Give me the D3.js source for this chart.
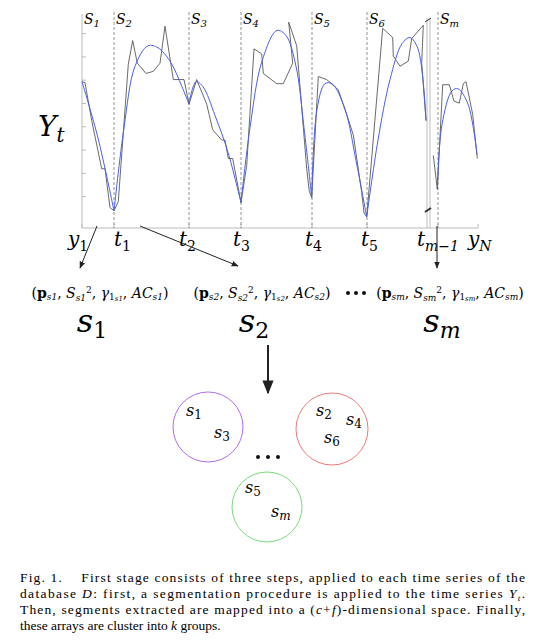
<!DOCTYPE html>
<html><head><meta charset="utf-8">
<script src="https://cdn.jsdelivr.net/npm/d3@7"></script>
<style>body{margin:0;background:#fff}text{font-family:"DejaVu Serif","Liberation Serif",serif}text.cap{font-family:"Liberation Serif",serif;white-space:pre}</style>
</head><body><svg id="c" width="544" height="643"></svg>
<script>
// time index (0..396) and value (0..10)
const boundaries = [0, 32, 107, 159, 230, 285, 356, 396];
const segLabels = ["1", "2", "3", "4", "5", "6", "m"];
const tLabels = ["1", "2", "3", "4", "5", "m\u22121"];
const tLabelX = [38, 103, 157, 229, 285, 341];
const rawT = [
  [0,3,9.7,19.7,23,28,32],
  [32,36.3,46.3,50.7,55.3,64,71.3,78,83,91.3,102,107],
  [107,114.7,124.7,130.7,139.7,143,146.3,150.7,159],
  [159,164.7,172,179.7,181.3,194.7,201.3,210.7,206.7,214.7,224.7,227.3,229.7],
  [229.7,236.3,244.7,256.3,264.7,271.3,279.7,282,284.7],
  [284.7,300.7,310.7,311.3,318,326.3,329.7,341.3,339.7,344],
  [351.3,355.3,360.7,367.3,372,377.3,381.3,384,390.7,395.3]
];
const rawV = [
  [6.75,6.7,4.85,2.5,2.5,0.6,0.45],
  [0.45,0.9,7.6,8.75,7.65,7.15,7.25,7.65,9.45,6.85,6.85,5.65],
  [5.65,6.85,5.65,4.4,3.9,3.9,3.0,3.0,0.85],
  [0.85,2.65,8.35,8.1,7.15,6.65,6.65,7.65,9.65,8.5,2.5,1.4,1.1],
  [1.1,7.0,6.85,6.35,5.15,4.15,1.35,0.35,0.15],
  [0.15,9.35,8.9,8.0,7.5,7.75,8.85,9.5,7.65,4.85],
  [3.15,1.5,6.6,6.6,5.8,5.7,6.65,6.75,5.15,3.0]
];
const fitT = [
  [0,16,32],
  [32,42,53,66,76,88,100,107],
  [107,114,121,133,146,159],
  [159,168,180,195,204,214,222,229.7],
  [229.7,235,243,250,263,274,284.7],
  [284.7,296,308,320,328,336,344],
  [355.3,360,370,376,386,395]
];
const fitV = [
  [6.75,4.0,0.45],
  [0.45,4.5,7.5,8.5,8.4,7.75,6.5,5.65],
  [5.65,6.75,6.5,5.1,3.3,0.85],
  [0.85,4.5,7.75,9.25,9.0,7.5,4.5,1.1],
  [1.1,5.4,6.65,6.65,5.4,2.9,0.15],
  [0.15,3.9,6.85,8.6,8.9,8.35,4.85],
  [1.5,4.65,6.3,6.4,5.65,3.2]
];
const formulaX = [100, 262, 450];
const segNames = ["1", "2", "m"];
const clusters = [
  {cx: 208, cy: 427, r: 35, color: "#b06cf0", items: [["1", -22, -11], ["3", 6, 11]]},
  {cx: 332, cy: 429, r: 36, color: "#f07a7a", items: [["2", -16, -13], ["4", 14, -4], ["6", -8, 14]]},
  {cx: 267, cy: 507, r: 35, color: "#7ada7a", items: [["5", -22, -14], ["m", 4, 10]]}
];
const caption = [
  "Fig. 1.    First stage consists of three steps, applied to each time series of the",
  "database D: first, a segmentation procedure is applied to the time series Y_t.",
  "Then, segments extracted are mapped into a (c+f)-dimensional space. Finally,",
  "these arrays are cluster into k groups."
];

const svg = d3.select("#c");
const x = d3.scaleLinear().domain([0, 396]).range([82, 478]);
const y = d3.scaleLinear().domain([0, 10]).range([220, 15]);
const g = svg.append("g");

// axes frame
g.append("line").attr("x1", 82).attr("x2", 82).attr("y1", 14).attr("y2", 228).attr("stroke", "#bbb");
g.append("line").attr("x1", 82).attr("x2", 478).attr("y1", 228).attr("y2", 228).attr("stroke", "#bbb");
g.selectAll(".yt").data(d3.range(1, 9)).join("line")
  .attr("x1", 82).attr("x2", 86).attr("y1", d => 220 - d * 23.3).attr("y2", d => 220 - d * 23.3).attr("stroke", "#bbb");
g.selectAll(".xt").data(boundaries).join("line")
  .attr("x1", d => x(d)).attr("x2", d => x(d)).attr("y1", 224).attr("y2", 228).attr("stroke", "#bbb");

// segment boundaries
g.selectAll(".b").data(boundaries.slice(1, 7)).join("line")
  .attr("x1", d => x(d)).attr("x2", d => x(d))
  .attr("y1", 12).attr("y2", 228)
  .attr("stroke", "#777").attr("stroke-dasharray", "3,2").attr("stroke-width", 0.8);
// break marks
[345, 348].forEach(t => g.append("line").attr("x1", x(t)).attr("x2", x(t)).attr("y1", 18).attr("y2", 228)
  .attr("stroke", "#bbb").attr("stroke-width", 1));
g.append("line").attr("x1", x(343)).attr("x2", x(349)).attr("y1", 22).attr("y2", 18).attr("stroke", "#333");
g.append("line").attr("x1", x(343)).attr("x2", x(349)).attr("y1", 212).attr("y2", 208).attr("stroke", "#333").attr("stroke-width", 2);

const line = d3.line().x(d => x(d[0])).y(d => y(d[1]));
const smooth = d3.line().x(d => x(d[0])).y(d => y(d[1])).curve(d3.curveCatmullRom);
rawT.forEach((ts, k) => {
  g.append("path").attr("d", line(ts.map((t, i) => [t, rawV[k][i]])))
    .attr("fill", "none").attr("stroke", "#444").attr("stroke-width", 0.8);
});
fitT.forEach((ts, k) => {
  g.append("path").attr("d", smooth(ts.map((t, i) => [t, fitV[k][i]])))
    .attr("fill", "none").attr("stroke", "#4a5ef0").attr("stroke-width", 1);
});

// segment labels
segLabels.forEach((s, i) => {
  const t = g.append("text").attr("x", x(boundaries[i]) + 2).attr("y", 24).attr("font-size", 14).attr("font-style", "italic");
  t.append("tspan").text("S");
  t.append("tspan").attr("font-size", 10).attr("dy", 3).text(s);
});
// time labels
const tl = (xx, base, sub) => {
  const t = g.append("text").attr("x", xx).attr("y", 246).attr("font-size", 20).attr("font-style", "italic");
  t.append("tspan").text(base);
  t.append("tspan").attr("font-size", 14).attr("dy", 5).attr("font-style", sub.match(/^\d/) ? "normal" : "italic").text(sub);
};
tl(68, "y", "1");
tLabels.forEach((s, i) => tl(x(tLabelX[i]) - 6, "t", s));
tl(468, "y", "N");
svg.append("text").attr("x", 38).attr("y", 136).attr("font-size", 28).attr("font-style", "italic")
  .text("Y").append("tspan").attr("font-size", 20).attr("dy", 6).text("t");

// arrows
svg.append("defs").append("marker").attr("id", "ah").attr("viewBox", "0 0 10 10").attr("refX", 9).attr("refY", 5)
  .attr("markerWidth", 7).attr("markerHeight", 7).attr("orient", "auto")
  .append("path").attr("d", "M0,1L10,5L0,9z").attr("fill", "#222");
const arrow = (x1, y1, x2, y2, w) => svg.append("line").attr("x1", x1).attr("y1", y1).attr("x2", x2).attr("y2", y2)
  .attr("stroke", "#222").attr("stroke-width", w || 1).attr("marker-end", "url(#ah)");
arrow(97, 226, 80, 268);
arrow(140, 226, 238, 266);
arrow(437, 226, 437, 268);
arrow(268, 345, 268, 393, 2);

// feature vectors
formulaX.forEach((cx, i) => {
  const s = segNames[i];
  const t = svg.append("text").attr("x", cx).attr("y", 298).attr("font-size", 14).attr("text-anchor", "middle")
    .attr("font-family", "Liberation Serif");
  t.append("tspan").text("(");
  t.append("tspan").attr("font-weight", "bold").text("p");
  t.append("tspan").attr("font-size", 9).attr("dy", 2).attr("font-style", "italic").text("s" + s);
  t.append("tspan").attr("dy", -2).text(", ");
  t.append("tspan").attr("font-style", "italic").text("S");
  t.append("tspan").attr("font-size", 9).attr("dy", 3).attr("font-style", "italic").text("s" + s);
  t.append("tspan").attr("font-size", 9).attr("dy", -8).text("2");
  t.append("tspan").attr("dy", 5).text(", ");
  t.append("tspan").attr("font-style", "italic").text("\u03b3");
  t.append("tspan").attr("font-size", 9).attr("dy", 2).text("1");
  t.append("tspan").attr("font-size", 7).attr("dy", 1).attr("font-style", "italic").text("s" + s);
  t.append("tspan").attr("dy", -3).text(", ");
  t.append("tspan").attr("font-style", "italic").text("AC");
  t.append("tspan").attr("font-size", 9).attr("dy", 2).attr("font-style", "italic").text("s" + s);
  t.append("tspan").attr("dy", -2).text(")");
  const n = svg.append("text").attr("x", cx - 8).attr("y", 332).attr("font-size", 32).attr("font-style", "italic").attr("text-anchor", "middle");
  n.append("tspan").text("s");
  n.append("tspan").attr("font-size", 22).attr("dy", 6).attr("font-style", s === "m" ? "italic" : "normal").text(s);
});
[348, 356, 364].forEach(cx => svg.append("circle").attr("cx", cx).attr("cy", 293).attr("r", 2).attr("fill", "#111"));

// clusters
clusters.forEach(c => {
  svg.append("circle").attr("cx", c.cx).attr("cy", c.cy).attr("r", c.r).attr("fill", "none").attr("stroke", c.color).attr("stroke-width", 1);
  c.items.forEach(([s, dx, dy]) => {
    const t = svg.append("text").attr("x", c.cx + dx).attr("y", c.cy + dy).attr("font-size", 16).attr("font-style", "italic");
    t.append("tspan").text("s");
    t.append("tspan").attr("font-size", 12).attr("dy", 3).attr("font-style", s === "m" ? "italic" : "normal").text(s);
  });
});
[258, 268, 278].forEach(cx => svg.append("circle").attr("cx", cx).attr("cy", 457).attr("r", 2).attr("fill", "#111"));

// caption
caption.forEach((l, i) => {
  const t = svg.append("text").attr("class", "cap").attr("x", 20).attr("y", 582 + i * 16).attr("font-size", 13.5)
    .attr("textLength", i < 3 ? 505 : null);
  if (i === 1) {
    t.append("tspan").text("database ");
    t.append("tspan").attr("font-style", "italic").text("D");
    t.append("tspan").text(": first, a segmentation procedure is applied to the time series ");
    t.append("tspan").attr("font-style", "italic").text("Y");
    t.append("tspan").attr("font-style", "italic").attr("font-size", 9).attr("dy", 3).text("t");
    t.append("tspan").attr("dy", -3).text(".");
  } else if (i === 2) {
    t.append("tspan").text("Then, segments extracted are mapped into a (");
    t.append("tspan").attr("font-style", "italic").text("c");
    t.append("tspan").text("+");
    t.append("tspan").attr("font-style", "italic").text("f");
    t.append("tspan").text(")-dimensional space. Finally,");
  } else if (i === 3) {
    t.append("tspan").text("these arrays are cluster into ");
    t.append("tspan").attr("font-style", "italic").text("k");
    t.append("tspan").text(" groups.");
  } else t.text(l);
});
</script></body></html>
